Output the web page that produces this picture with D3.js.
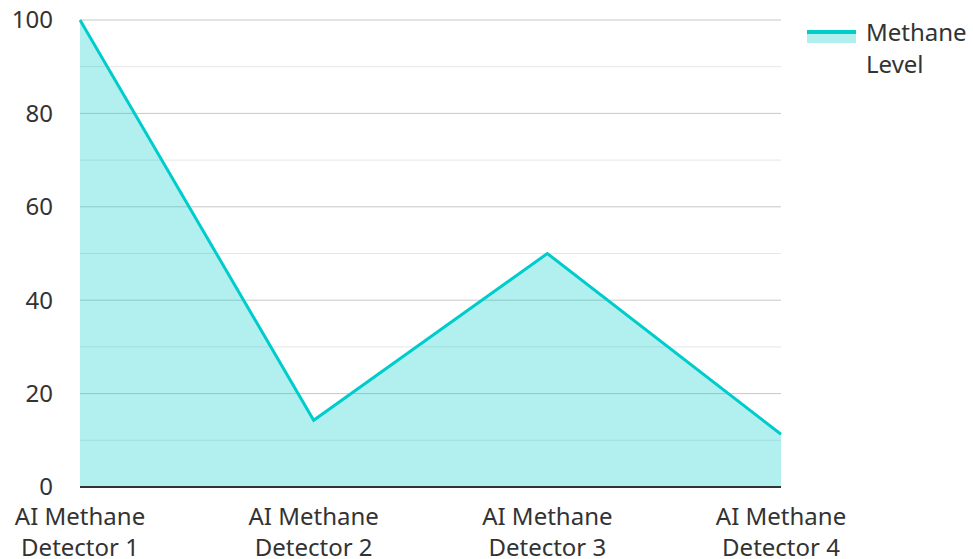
<!DOCTYPE html>
<html>
<head>
<meta charset="utf-8">
<script src="https://cdn.jsdelivr.net/npm/d3@7"></script>
<style>
  body { margin: 0; background: #fff; }
  text { font-family: "Noto Sans", "Open Sans", sans-serif; fill: #333; }
</style>
</head>
<body>
<svg id="chart" width="973" height="559"></svg>
<script>
var categories = ["AI Methane Detector 1", "AI Methane Detector 2", "AI Methane Detector 3", "AI Methane Detector 4"];
var methaneLevel = [100, 14.3, 50, 11.3];
var yTicks = [0, 20, 40, 60, 80, 100];
var seriesName = "Methane Level";

var dimensions = {
  width: 973,
  height: 559,
  margin: { top: 20, bottom: 72, right: 192, left: 80 }
}

var svg = d3.select("#chart")

var x = d3.scalePoint()
  .domain(categories)
  .range([dimensions.margin.left, dimensions.width - dimensions.margin.right])

var y = d3.scaleLinear()
  .domain([0, 100])
  .range([dimensions.height - dimensions.margin.bottom, dimensions.margin.top])

// minor grid
svg.append("g")
  .selectAll("line")
  .data(d3.range(10, 100, 20))
  .join("line")
  .attr("x1", x.range()[0]).attr("x2", x.range()[1])
  .attr("y1", d => y(d)).attr("y2", d => y(d))
  .attr("stroke", "#e6e6e6").attr("stroke-width", 1)

// major grid
svg.append("g")
  .selectAll("line")
  .data(yTicks.slice(1))
  .join("line")
  .attr("x1", x.range()[0]).attr("x2", x.range()[1])
  .attr("y1", d => y(d)).attr("y2", d => y(d))
  .attr("stroke", "#c8c8c8").attr("stroke-width", 1)

var pts = categories.map((c, i) => [c, methaneLevel[i]])

var area = d3.area()
  .x(d => x(d[0]))
  .y0(y(0))
  .y1(d => y(d[1]))

var line = d3.line()
  .x(d => x(d[0]))
  .y(d => y(d[1]))

svg.append("path")
  .datum(pts)
  .attr("d", area)
  .attr("fill", "#00cccc")
  .attr("fill-opacity", 0.3)

svg.append("path")
  .datum(pts)
  .attr("d", line)
  .attr("fill", "none")
  .attr("stroke", "#00cccc")
  .attr("stroke-width", 3)

// x axis line
svg.append("line")
  .attr("x1", x.range()[0]).attr("x2", x.range()[1])
  .attr("y1", y(0)).attr("y2", y(0))
  .attr("stroke", "#333").attr("stroke-width", 2)

// y tick labels
svg.append("g")
  .selectAll("text")
  .data(yTicks)
  .join("text")
  .attr("x", 53)
  .attr("y", d => y(d))
  .attr("dy", "0.35em")
  .attr("text-anchor", "end")
  .style("font-size", "24px")
  .text(d => d)

// x labels, two lines
var xl = svg.append("g")
  .selectAll("text")
  .data(categories)
  .join("text")
  .attr("text-anchor", "middle")
  .style("font-size", "24px")
xl.each(function(d) {
  var parts = d.split(" ")
  var t = d3.select(this)
  t.append("tspan").attr("x", x(d)).attr("y", 525).text(parts.slice(0, 2).join(" "))
  t.append("tspan").attr("x", x(d)).attr("y", 556).text(parts.slice(2).join(" "))
})

// legend
var lg = svg.append("g").attr("transform", "translate(807, 30)")
lg.append("rect")
  .attr("x", 0).attr("y", 0).attr("width", 49).attr("height", 13)
  .attr("fill", "#00cccc").attr("fill-opacity", 0.3)
lg.append("line")
  .attr("x1", 0).attr("x2", 49).attr("y1", 2).attr("y2", 2)
  .attr("stroke", "#00cccc").attr("stroke-width", 4)
var lt = lg.append("text").style("font-size", "24px")
lt.append("tspan").attr("x", 59).attr("y", 10.5).text(seriesName.split(" ")[0])
lt.append("tspan").attr("x", 59).attr("y", 42.5).text(seriesName.split(" ")[1])
</script>
</body>
</html>
